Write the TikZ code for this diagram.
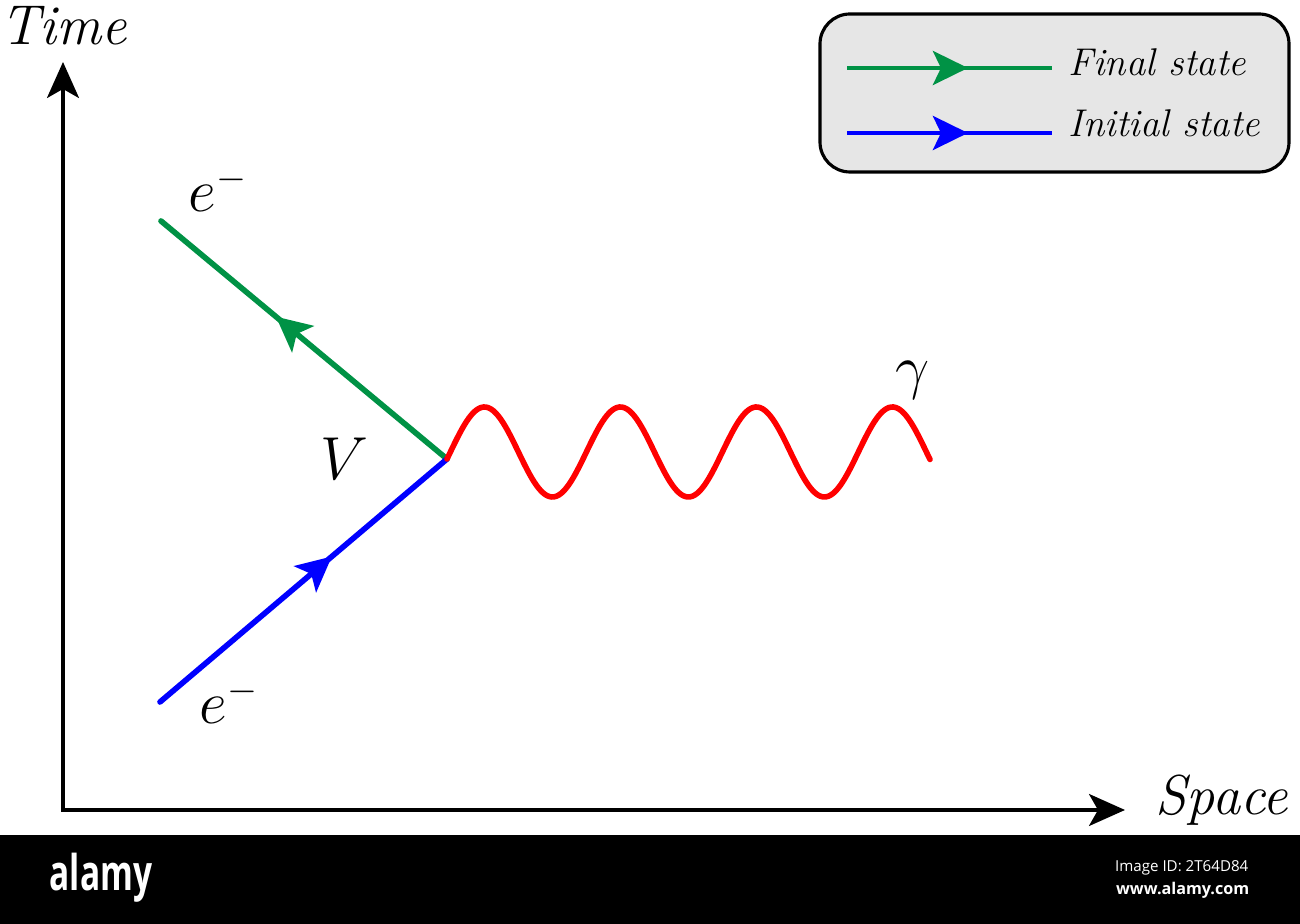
\documentclass[tikz,border=0pt]{standalone}
\usepackage{fontspec}
\setsansfont{Open Sans}
\usepackage{tikz}
\usetikzlibrary{arrows.meta, positioning, calc, decorations.markings}
\definecolor{fgreen}{RGB}{0,146,69}
\definecolor{legendgray}{RGB}{230,230,230}
\tikzset{
  axis/.style={line width=0.9pt, {Stealth[length=3.6mm, width=3.2mm, inset=0.9mm]}-{Stealth[length=3.6mm, width=3.2mm, inset=0.9mm]}},
  particle/.style={line width=1.6pt, line cap=round},
  midarrow/.style={postaction={decorate, decoration={markings, mark=at position #1 with {\arrow{Stealth[length=3.5mm, width=3.4mm, inset=0.8mm]}}}}},
  lbl/.style={inner sep=0pt, font=\fontsize{16}{19}\selectfont},
  keytext/.style={inner sep=0pt, anchor=base west, font=\fontsize{11}{13}\selectfont},
}

\begin{document}
\begin{tikzpicture}[x=0.1mm, y=-0.1mm]
    \useasboundingbox (0,0) rectangle (1300,924);

    % footer bar
    \fill[black] (0,835) rectangle (1300,924);
    \node (brand) [text=white, font=\sffamily\bfseries\fontsize{14}{16}\selectfont] at (101,878) {\scalebox{0.68}[1]{alamy}};
    \node (imgid) [anchor=base east, inner sep=0pt, text=white, font=\sffamily\fontsize{4.3}{5}\selectfont] at (1249,872) {Image ID: 2T64D84};
    \node (www) [anchor=base east, inner sep=0pt, text=white, font=\sffamily\bfseries\fontsize{4.6}{5}\selectfont] at (1250,895) {www.alamy.com};

    \coordinate (origin) at (63,810);
    \coordinate (tmax) at (63,62);
    \coordinate (smax) at (1125,810);
    \coordinate (vtx) at (447,459);
    \coordinate (ein) at (160,702);
    \coordinate (eout) at (161,221);

    % axes
    \draw[axis] (tmax) -- (origin) -- (smax);
    \node (time) [lbl, anchor=base] at (64,45) {\textit{Time}};
    \node (space) [lbl, anchor=base west] at (1155,815) {\textit{Space}};

    % electrons and photon
    \draw[particle, fgreen, midarrow=0.6] (vtx) -- (eout);
    \draw[particle, blue, midarrow=0.6] (ein) -- (vtx);
    \draw[particle, red] plot[domain=447:930, samples=200] (\x, {452-45*sin(2.6471*(\x-447)-9)});

    \node (etop) [lbl, anchor=base west] at (188,212) {$e^-$};
    \node (ebot) [lbl, anchor=base west] at (199,724) {$e^-$};
    \node (vlab) [lbl, anchor=base west] at (320,480) {$V$};
    \node (gamma) [lbl, anchor=base west] at (895,388) {$\gamma$};

    % legend
    \node (legend) [draw, line width=0.9pt, rounded corners=3mm, fill=legendgray, minimum width=46.9mm, minimum height=15.8mm] at (1054.5,93) {};
    \coordinate (fa) at (847,68);
    \coordinate (fb) at (1052,68);
    \coordinate (ia) at (847,133);
    \coordinate (ib) at (1052,133);
    \draw[line width=1.3pt, fgreen, midarrow=0.59] (fa) -- (fb);
    \draw[line width=1.3pt, blue, midarrow=0.59] (ia) -- (ib);
    \node (final) [keytext] at (1068,76) {\textit{Final state}};
    \node (initial) [keytext] at (1068,137) {\textit{Initial state}};
\end{tikzpicture}
\end{document}
